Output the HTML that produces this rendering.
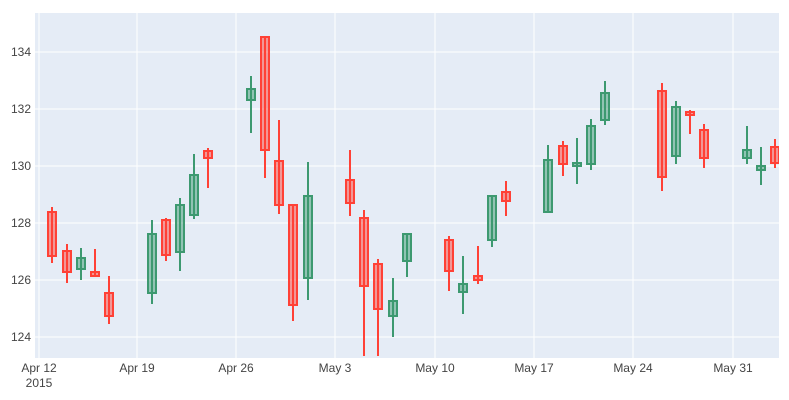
<!DOCTYPE html>
<html><head><meta charset="utf-8"><style>
html,body{margin:0;padding:0;background:#fff;}
svg{display:block;font-family:"Liberation Sans",sans-serif;}
</style></head><body>
<svg width="789" height="400" xmlns="http://www.w3.org/2000/svg">
<rect x="35" y="13" width="744" height="345" fill="#E5ECF6"/>
<g stroke="#fff" stroke-width="1">
<line x1="35" x2="779" y1="52" y2="52"/><line x1="35" x2="779" y1="109" y2="109"/>
<line x1="35" x2="779" y1="166" y2="166"/><line x1="35" x2="779" y1="223" y2="223"/>
<line x1="35" x2="779" y1="280" y2="280"/><line x1="35" x2="779" y1="337" y2="337"/>
<line x1="39" x2="39" y1="13" y2="358"/><line x1="137" x2="137" y1="13" y2="358"/>
<line x1="236" x2="236" y1="13" y2="358"/><line x1="335" x2="335" y1="13" y2="358"/>
<line x1="435" x2="435" y1="13" y2="358"/><line x1="534" x2="534" y1="13" y2="358"/>
<line x1="633" x2="633" y1="13" y2="358"/><line x1="733" x2="733" y1="13" y2="358"/>
</g>
<g font-size="12" fill="#444" text-anchor="end">
<text x="31" y="56">134</text><text x="31" y="113">132</text><text x="31" y="170">130</text>
<text x="31" y="227">128</text><text x="31" y="284">126</text><text x="31" y="341">124</text>
</g>
<g font-size="12" fill="#444" text-anchor="middle">
<text x="39" y="372">Apr 12</text><text x="39" y="387">2015</text>
<text x="137" y="372">Apr 19</text><text x="236" y="372">Apr 26</text>
<text x="335" y="372">May 3</text><text x="435" y="372">May 10</text>
<text x="534" y="372">May 17</text><text x="633" y="372">May 24</text>
<text x="733" y="372">May 31</text>
</g>
<svg x="35" y="13" width="744" height="345" viewBox="35 13 744 345" overflow="hidden">
<g id="c" stroke-width="2"></g>
</svg>
</svg>
<script>
var d=[[52,207,263,212,256,0],[67,244,283,251,272,0],[81,248,280,258,269,1],[95,249,276,272,276,0],[109,276,324,293,316,0],
[152,220,304,234,293,1],[166,218,261,220,255,0],[180,198,271,205,252,1],[194,154,219,175,215,1],[208,148,188,151,158,0],
[251,76,133,89,100,1],[265,36,178,37,150,0],[279,120,214,161,205,0],[293,204,321,205,305,0],[308,162,300,196,278,1],
[350,150,216,180,203,0],[364,210,356,218,286,0],[378,259,356,264,309,0],[393,278,337,301,316,1],[407,233,277,234,261,1],
[449,236,291,240,271,0],[463,256,314,284,292,1],[478,246,284,276,280,0],[492,196,247,196,240,1],[506,181,216,192,201,0],
[548,145,213,160,212,1],[563,141,176,146,164,0],[577,138,184,163,166,1],[591,119,170,126,164,1],[605,81,125,93,120,1],
[662,83,191,91,177,0],[676,101,164,107,156,1],[690,110,134,112,115,0],[704,124,168,130,158,0],
[747,126,164,150,158,1],[761,147,185,166,170,1],[775,139,168,147,163,0]];
var s="";
d.forEach(function(c){var col=c[5]?"#3D9970":"#FF4136",f=c[5]?"rgba(61,153,112,0.5)":"rgba(255,65,54,0.5)";
s+='<line x1="'+c[0]+'" x2="'+c[0]+'" y1="'+c[1]+'" y2="'+c[2]+'" stroke="'+col+'"/>';
s+='<rect x="'+(c[0]-4)+'" y="'+c[3]+'" width="8" height="'+Math.max(c[4]-c[3],1)+'" fill="'+f+'" stroke="'+col+'"/>';});
document.getElementById("c").innerHTML=s;
</script>
</body></html>
